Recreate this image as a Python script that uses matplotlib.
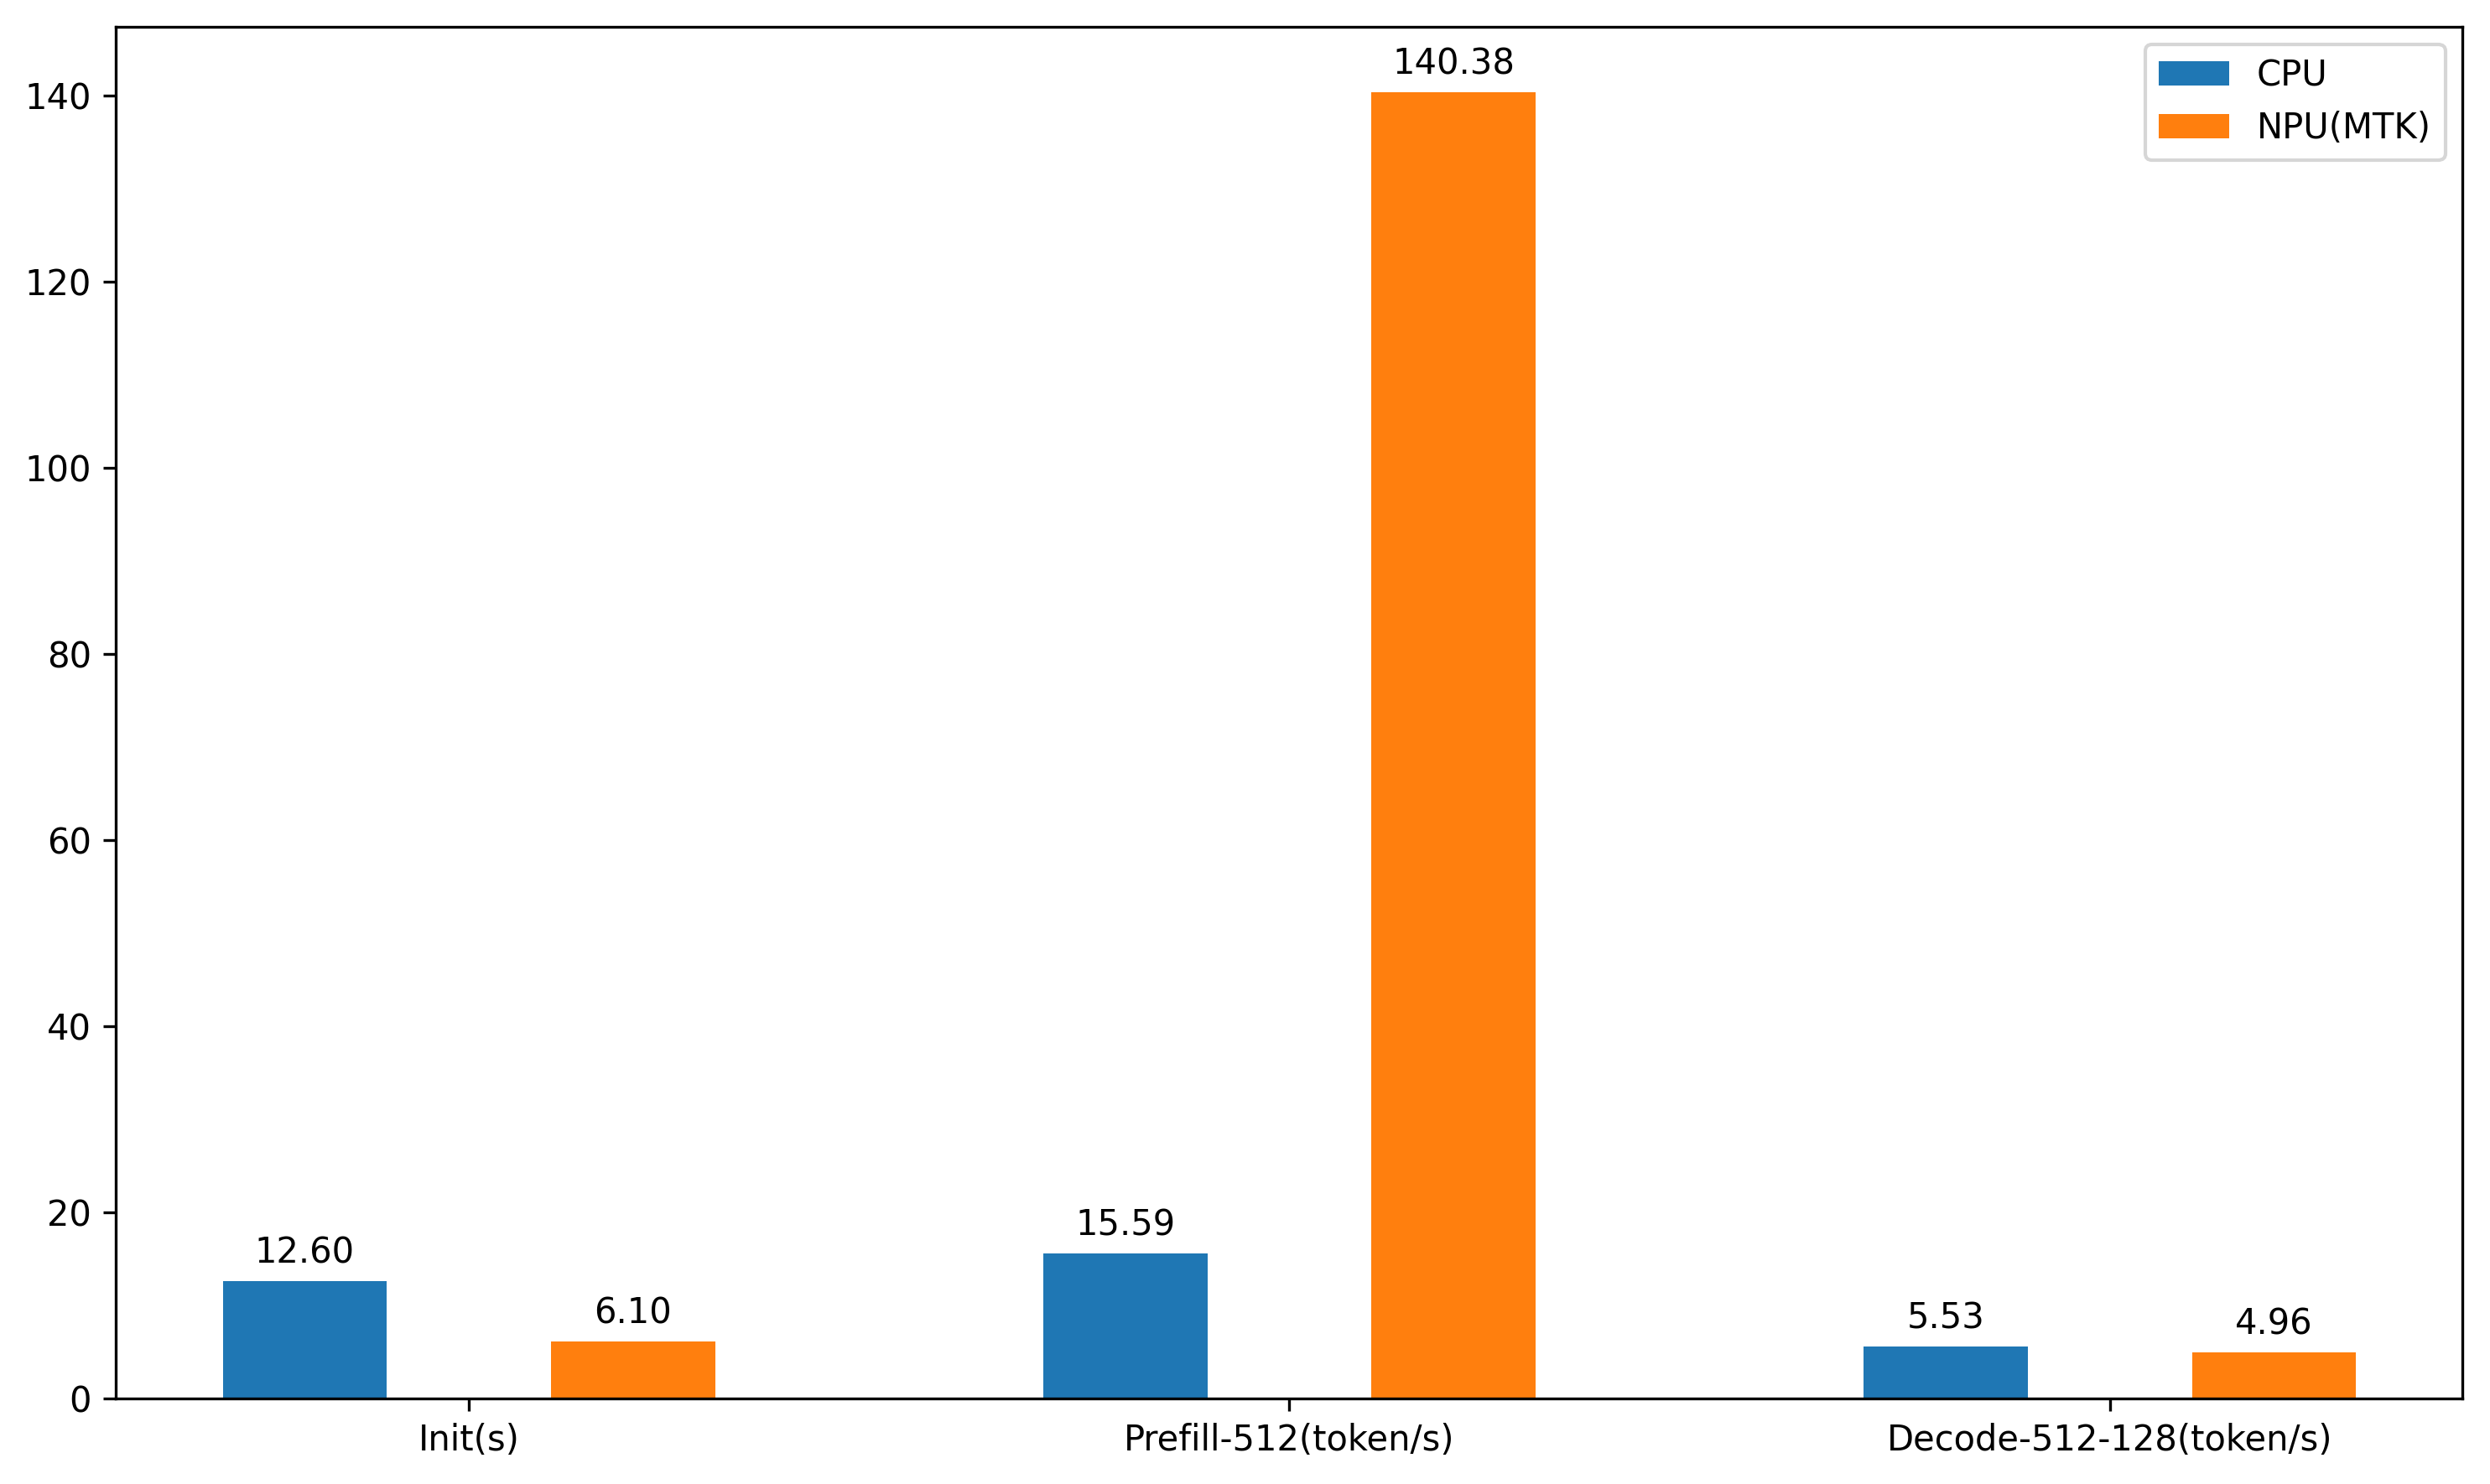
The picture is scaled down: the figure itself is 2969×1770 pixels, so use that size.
import numpy as np
import matplotlib
matplotlib.use('Agg')
import matplotlib.pyplot as plt

# ── data ──────────────────────────────────────────────────────────────────────
categories = ['Init(s)', 'Prefill-512(token/s)', 'Decode-512-128(token/s)']
cpu_vals = [12.60, 15.59, 5.53]
npu_vals = [6.10, 140.38, 4.96]

# ── figure ────────────────────────────────────────────────────────────────────
fig, ax = plt.subplots(figsize=(9.897, 5.9), dpi=300)
fig.subplots_adjust(left=0.0466, right=0.989, top=0.982, bottom=0.0578)

x = np.arange(len(categories))
w = 0.2
b1 = ax.bar(x - w, cpu_vals, w, label='CPU', color='#1f77b4')
b2 = ax.bar(x + w, npu_vals, w, label='NPU(MTK)', color='#ff7f0e')

for bars in (b1, b2):
    for r in bars:
        h = r.get_height()
        ax.annotate(f'{h:.2f}', xy=(r.get_x() + r.get_width() / 2, h),
                    xytext=(0, 3), textcoords='offset points',
                    ha='center', va='bottom', fontsize=10)

ax.set_xticks(x)
ax.set_xticklabels(categories)
ax.legend(loc='upper right')

plt.savefig('out.png', dpi=300)
plt.close()
